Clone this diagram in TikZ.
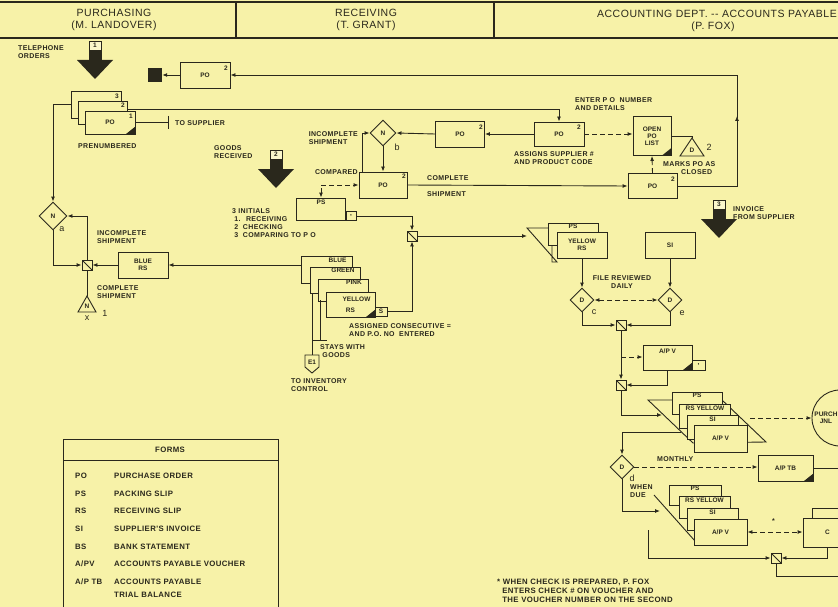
\documentclass[tikz,border=0pt]{standalone}
\usepackage{fontspec}
\setmainfont{Liberation Sans}
\newfontfamily\lsp{Liberation Sans}[LetterSpace=5]
\usetikzlibrary{shapes.geometric,arrows.meta}
\definecolor{bg}{HTML}{F7F2A8}
\definecolor{ink}{HTML}{2A281C}
\newcommand\bigarrow[4]{%
  \node[draw=ink,fill=white!40!bg,minimum width=12pt,minimum height=9pt,inner sep=0,anchor=north,font=\fontsize{6.5}{6}\selectfont\bfseries] (#1) at (#2,#3) {#4};
  \fill[ink] ({#2-6},{#3+9}) rectangle ({#2+6},{#3+19});
  \draw[ink] ({#2-6},{#3+9}) -- ({#2-6},{#3+19}) ({#2+6},{#3+9}) -- ({#2+6},{#3+19});
  \fill[ink] ({#2-18},{#3+19}) -- ({#2+18},{#3+19}) -- (#2,{#3+38}) -- cycle;}
\newcommand\corner[1]{\fill[ink] (#1.south east) -- ++(-10,0) -- ++(10,-8) -- cycle;}
\begin{document}
\begin{tikzpicture}[x=1pt,y=-1pt,
  every node/.style={text=ink},
  lab/.style={font=\lsp\fontsize{7}{8}\selectfont\bfseries,inner sep=0,align=left,anchor=west},
  labc/.style={font=\lsp\fontsize{7}{8}\selectfont\bfseries,inner sep=0,align=center},
  frm/.style={font=\lsp\fontsize{7.8}{9}\selectfont\bfseries,inner sep=0,align=left,anchor=west},
  head/.style={font=\lsp\fontsize{10.5}{12}\selectfont,inner sep=0,align=center},
  box/.style={draw=ink,fill=bg,line width=0.9pt,inner sep=0,align=center,font=\fontsize{6.5}{7}\selectfont\bfseries},
  num/.style={font=\fontsize{6.5}{6}\selectfont\bfseries,inner sep=0},
  dia/.style={diamond,draw=ink,fill=bg,line width=0.9pt,minimum size=24pt,inner sep=0,font=\fontsize{6.5}{6}\selectfont\bfseries},
  coll/.style={draw=ink,fill=bg,line width=0.9pt,minimum size=10pt,inner sep=0,path picture={\draw[ink] (path picture bounding box.north west) -- (path picture bounding box.south east);}},
  sm/.style={font=\fontsize{9}{9}\selectfont,inner sep=0},
  arr/.style={draw=ink,line width=0.9pt,-{Latex[length=5pt,width=4pt]}},
  ln/.style={draw=ink,line width=0.9pt},
  dsh/.style={draw=ink,line width=0.9pt,dash pattern=on 5pt off 3pt}]
\fill[bg] (0,0) rectangle (838,607);
\useasboundingbox (0,0) rectangle (838,607);
% header
\draw[ln,line width=1.1pt] (0,2) -- (838,2) (0,38) -- (838,38) (236,2) -- (236,38) (494,2) -- (494,38);
\node[head] (h1) at (114,20) {PURCHASING\\(M. LANDOVER)};
\node[head] (h2) at (366,20) {RECEIVING\\(T. GRANT)};
\node[head,anchor=east] (h3) at (837,14) {ACCOUNTING DEPT. -- ACCOUNTS PAYABLE};
\node[head] (h3b) at (713,27) {(P. FOX)};
% purchasing
\node[lab] (tel) at (18,52) {TELEPHONE\\ORDERS};
\bigarrow{a1}{95}{41}{1}
\node[box,minimum width=50pt,minimum height=26pt] (poT) at (205,75) {PO};
\node[num] at (226,68) {2};
\node[fill=ink,minimum size=14pt,inner sep=0] (blk) at (155,75) {};
\node[box,minimum width=50pt,minimum height=27pt] (p3) at (96,104.5) {};
\node[num] at (117,96) {3};
\node[box,minimum width=49pt,minimum height=23pt] (p2) at (102.5,112.5) {};
\node[num] at (123,105) {2};
\node[box,minimum width=50pt,minimum height=23pt] (p1) at (110,122.5) {PO};
\node[num] at (131,116) {1};
\corner{p1}
\coordinate (sup) at (168,122.5);
\draw[ln] (p1.east) -- (sup) (168,116) -- (168,129);
\node[lab] (tos) at (175,123) {TO SUPPLIER};
\node[lab] (pren) at (78,146) {PRENUMBERED};
\node[dia,minimum size=28pt] (da) at (53,216) {N};
\node[sm] at (62,229) {a};
\node[coll] (colA) at (87,265) {};
\node[box,minimum width=50pt,minimum height=26pt] (blueRS) at (143,265) {BLUE\\RS};
\node[lab] (inc1) at (97,237) {INCOMPLETE\\SHIPMENT};
\node[lab] (com1) at (97,292) {COMPLETE\\SHIPMENT};
\draw[ln,fill=bg] (87,296) -- (96,312) -- (78,312) -- cycle;
\node[num] (triN) at (87,306) {N};
\node[sm] at (87,318) {x};
\node[sm] at (105,313) {1};
\draw[arr] (p3.west) -| (da.north);
\draw[arr] (da.south) |- (colA.west);
\draw[arr] (colA.north) |- (da.east);
\draw[arr] (blueRS.west) -- (colA.east);
\draw[ln] (colA.south) -- (87,296);
\draw[arr] (poT.west) -- (blk.east);
% receiving
\node[lab] (gr) at (214,152) {GOODS\\RECEIVED};
\bigarrow{a2}{276}{150}{2}
\node[dia,minimum size=26pt] (db) at (383,133) {N};
\node[sm] at (397,147) {b};
\node[lab,anchor=east] (inc2) at (358,138) {INCOMPLETE\\SHIPMENT};
\node[box,minimum width=48pt,minimum height=26pt] (poC) at (383,185) {PO};
\node[num] at (404,176) {2};
\node[lab,anchor=east] (cmp) at (358,172) {COMPARED};
\node[box,minimum width=49pt,minimum height=22pt] (ps) at (321,209) {PS\\[7pt]};
\node[box,minimum width=10pt,minimum height=9pt] (cm1) at (351,216) {,};
\node[lab] (ini) at (232,223) {3 INITIALS\\\ 1. \ RECEIVING\\\ 2 \ CHECKING\\\ 3 \ COMPARING TO P O};
\node[coll] (colB) at (412,236) {};
\node[box,minimum width=51pt,minimum height=27pt] (rsB) at (326.5,269.5) {\hspace*{22pt}BLUE\\[12pt]};
\node[box,minimum width=50pt,minimum height=26pt] (rsG) at (335,280) {\hspace*{16pt}GREEN\\[12pt]};
\node[box,minimum width=50pt,minimum height=22pt] (rsP) at (343,290) {\hspace*{22pt}PINK\\[9pt]};
\node[box,minimum width=49pt,minimum height=25pt] (rsY) at (350.5,304.5) {\hspace*{12pt}YELLOW\\[4pt]RS};
\corner{rsY}
\node[box,minimum width=12pt,minimum height=9pt] (sb) at (381,311.5) {S};
\draw[ln] (312,293) -- (312,355) (320,300) -- (320,340) (313,340) -- (327,340);
\draw[ln,fill=bg] (305,355) -- (319,355) -- (319,367) -- (312,373) -- (305,367) -- cycle;
\node[num] (e1) at (312,362) {E1};
\node[lab] (stay) at (320,351) {STAYS WITH\\\ GOODS};
\node[lab] (inv) at (291,385) {TO INVENTORY\\CONTROL};
\node[lab] (asg) at (349,330) {ASSIGNED CONSECUTIVE =\\AND P.O. NO \ ENTERED};
\draw[arr] ([xshift=4pt]poC.north west) |- (db.west);
\draw[arr] (db.south) -- (poC.north);
\draw[dsh,{Latex[length=5pt,width=4pt]}-{Latex[length=5pt,width=4pt]}] (ps.north) |- (poC.west);
\draw[arr] (cm1.east) -| (colB.north);
\draw[arr] (sb.east) -| (colB.south);
\draw[arr] (rsB.west |- blueRS.east) -- (blueRS.east);
\node[lab] (cs) at (427,186) {COMPLETE\\\\SHIPMENT};
% accounting top
\node[lab] (ent) at (575,104) {ENTER P O \ NUMBER\\AND DETAILS};
\node[box,minimum width=49pt,minimum height=26pt] (poB) at (460,134) {PO};
\node[num] at (481,127) {2};
\node[box,minimum width=50pt,minimum height=24pt] (poAs) at (559,134) {PO};
\node[num] at (579,127) {2};
\node[box,minimum width=38pt,minimum height=39pt] (opl) at (652,136) {OPEN\\PO\\LIST};
\corner{opl}
\draw[ln,fill=bg] (692,138) -- (704,156) -- (680,156) -- cycle;
\node[num] (triD) at (692,150) {D};
\node[sm] at (709,147) {2};
\node[lab] (asn) at (514,158) {ASSIGNS SUPPLIER \#\\AND PRODUCT CODE};
\node[lab] (mk) at (663,168) {MARKS PO AS\\\hspace*{18pt}CLOSED};
\node[box,minimum width=49pt,minimum height=25pt] (poAcc) at (652.5,186) {PO};
\node[num] at (673,179) {2};
\draw[arr] (p2.north east |- 0,109) -| (poAs.north);
\draw[arr] (poAs.west) -- (poB.east);
\draw[arr] (poB.west) -- (db.east);
\draw[dsh,-{Latex[length=5pt,width=4pt]}] (poAs.east) -- (poAs.east -| opl.west);
\draw[ln] (opl.east) -| (692,138);
\draw[dsh,-{Latex[length=5pt,width=4pt]}] (poAcc.north) -- (opl.south);
\draw[arr] (poC.east) -- (poAcc.west);
\draw[arr] (poAcc.east) -| (737,116);
\draw[arr] (737,118) |- (poT.east);
\bigarrow{a3}{719}{200}{3}
\node[lab] (invs) at (733,213) {INVOICE\\FROM SUPPLIER};
% file 1
\coordinate (f1) at (527,236);
\draw[ln,fill=bg] (527,228) -- (552,228) -- (552,262) -- (557,262) -- cycle;
\node[box,minimum width=50pt,minimum height=22pt] (f1ps) at (573,234) {PS\\[8pt]};
\node[box,minimum width=50pt,minimum height=26pt] (f1rs) at (582,245) {YELLOW\\RS};
\draw[arr] (colB.east) -- (f1);
\node[box,minimum width=50pt,minimum height=26pt] (si) at (670,245) {SI};
\node[dia] (dc) at (582,300) {D};
\node[sm] at (594,312) {c};
\node[dia] (de) at (670,300) {D};
\node[sm] at (682,313) {e};
\node[labc] (frd) at (622,282) {FILE REVIEWED\\DAILY};
\draw[arr] (f1rs.south) -- (dc.north);
\draw[arr] (si.south) -- (de.north);
\draw[dsh,{Latex[length=5pt,width=4pt]}-{Latex[length=5pt,width=4pt]}] (dc.east) -- (de.west);
\node[coll] (colC) at (621,325) {};
\draw[arr] (dc.south) |- (colC.west);
\draw[arr] (de.south) |- (colC.east);
\node[box,minimum width=49pt,minimum height=25pt] (apv1) at (667.5,357.5) {A/P V\\[6pt]};
\corner{apv1}
\node[box,minimum width=13pt,minimum height=10pt] (cm2) at (698.5,365) {,};
\node[coll] (colD) at (621,385) {};
\draw[arr] (colC.south) -- (colD.north);
\coordinate (br) at (621,357);
\draw[dsh,-{Latex[length=5pt,width=4pt]}] (br) -- (br -| apv1.west);
\draw[arr] (apv1.south) |- (colD.east);
% file 2
\draw[ln,fill=bg] (648,400) -- (722,400) -- (766,442) -- (693,443) -- cycle;
\node[box,minimum width=50pt,minimum height=22pt] (f2ps) at (697,403) {PS\\[8pt]};
\node[box,minimum width=51pt,minimum height=24pt] (f2rs) at (705,416) {RS YELLOW\\[8pt]};
\node[box,minimum width=51pt,minimum height=24pt] (f2si) at (712.5,427) {SI\\[8pt]};
\node[box,minimum width=53pt,minimum height=27pt] (f2ap) at (720.5,438.5) {A/P V};
\coordinate (f2t) at (662,415);
\draw[arr] (colD.south) |- (f2t);
\node[draw=ink,line width=0.9pt,circle,minimum size=56pt,fill=bg,inner sep=0] (pj) at (840,418) {};
\node[box,draw=none,fill=none,anchor=west] (pjt) at (814,418) {PURCH\\JNL};
\coordinate (f2e) at (750,418);
\draw[dsh,-{Latex[length=5pt,width=4pt]}] (f2e) -- (pj.west);
\coordinate (f2b) at (681,432);
\node[dia] (dd) at (622,467) {D};
\node[sm] at (632,478) {d};
\draw[arr] (f2b) -| (dd.north);
\node[box,minimum width=55pt,minimum height=26pt] (aptb) at (785.5,468) {A/P TB};
\corner{aptb}
\draw[dsh,-{Latex[length=5pt,width=4pt]}] (dd.east) -- (dd.east -| aptb.west);
\node[lab] (mon) at (657,459) {MONTHLY};
\draw[ln] (aptb.east) -- (838,468);
\node[lab] (wd) at (630,491) {WHEN\\DUE};
% file 3
\draw[ln] (654,495) -- (695,541);
\node[box,minimum width=52pt,minimum height=20pt] (f3ps) at (695,495) {PS\\[7pt]};
\node[box,minimum width=51pt,minimum height=22pt] (f3rs) at (704.5,507) {RS YELLOW\\[7pt]};
\node[box,minimum width=51pt,minimum height=22pt] (f3si) at (712.5,519) {SI\\[7pt]};
\node[box,minimum width=53pt,minimum height=26pt] (f3ap) at (720.5,532) {A/P V};
\coordinate (f3t) at (660,511);
\draw[arr] (dd.south) |- (f3t);
\draw[ln] (812,508) -- (838,508) (812,508) -- (812,518);
\node[box,minimum width=57pt,minimum height=29pt] (cf) at (831.5,532.5) {C\hspace*{8pt}};
\node[lab] (ast) at (772,521) {*};
\draw[dsh,{Latex[length=5pt,width=4pt]}-{Latex[length=5pt,width=4pt]}] (f3ap.east) -- (f3ap.east -| cf.west);
\node[coll] (colE) at (776,558) {};
\coordinate (lp) at (648,530);
\draw[arr] (lp) |- (colE.west);
\draw[arr] ([xshift=-4pt]cf.south) |- (colE.east);
\draw[ln] (colE.south) |- (838,576);
\node[frm] (fn) at (497,591) {* WHEN CHECK IS PREPARED, P. FOX\\\ \ ENTERS CHECK \# ON VOUCHER AND\\\ \ THE VOUCHER NUMBER ON THE SECOND};
% forms
\draw[ln] (63,620) -- (63,439) -- (278,439) -- (278,620) (63,460) -- (278,460);
\node[labc,font=\lsp\fontsize{7.8}{9}\selectfont\bfseries] (fh) at (170,450) {FORMS};
\foreach \a/\b/\y in {PO/PURCHASE ORDER/476,PS/PACKING SLIP/494,RS/RECEIVING SLIP/511,SI/SUPPLIER'S INVOICE/529,BS/BANK STATEMENT/547,{A/PV}/ACCOUNTS PAYABLE VOUCHER/564,{A/P TB}/ACCOUNTS PAYABLE/582}{
  \node[frm] at (75,\y) {\a};
  \node[frm] at (114,\y) {\b};}
\node[frm] (tb) at (114,595) {TRIAL BALANCE};
\end{tikzpicture}
\end{document}
